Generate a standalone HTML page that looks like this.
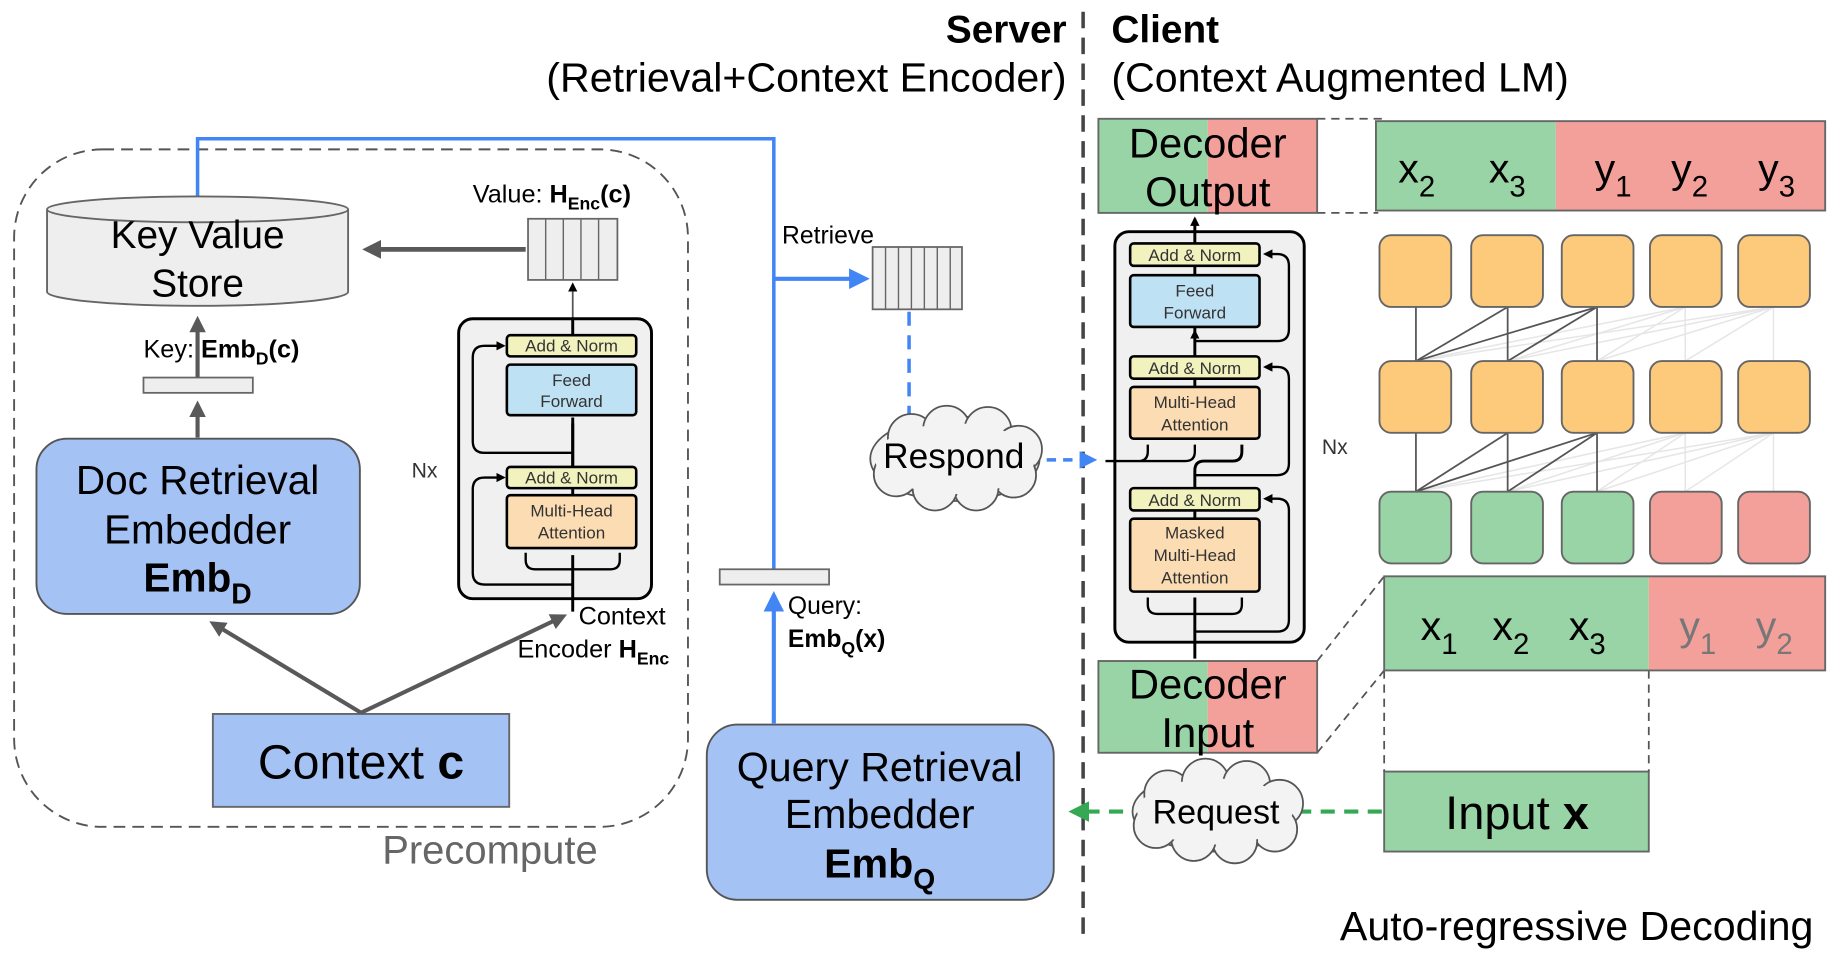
<!DOCTYPE html>
<html><head><meta charset="utf-8"><style>
html,body{margin:0;padding:0;background:#fff;}
svg{display:block;}
text{font-family:"Liberation Sans",Arial,sans-serif;}
</style></head><body>
<svg width="1844" height="958" viewBox="0 0 1568 814.5" preserveAspectRatio="none" xmlns="http://www.w3.org/2000/svg">
<defs>
<marker id="ag" markerWidth="4" markerHeight="4" refX="3" refY="2" orient="auto" markerUnits="strokeWidth"><path d="M0,0 L4,2 L0,4 z" fill="#595959"/></marker>
<marker id="ak" markerWidth="8" markerHeight="8" refX="6" refY="4" orient="auto" markerUnits="userSpaceOnUse"><path d="M0,0 L8,4 L0,8 z" fill="#000"/></marker>
<marker id="ab" markerWidth="5" markerHeight="5" refX="4" refY="2.5" orient="auto" markerUnits="strokeWidth"><path d="M0,0 L5,2.5 L0,5 z" fill="#4285f4"/></marker>
<marker id="agr" markerWidth="5" markerHeight="5" refX="4" refY="2.5" orient="auto" markerUnits="strokeWidth"><path d="M0,0 L5,2.5 L0,5 z" fill="#34a853"/></marker>
</defs>

<!-- titles -->
<text x="907" y="36" font-size="33" font-weight="bold" text-anchor="end">Server</text>
<text x="907" y="78" font-size="35" text-anchor="end">(Retrieval+Context Encoder)</text>
<text x="945" y="36" font-size="33" font-weight="bold">Client</text>
<text x="945" y="78" font-size="35">(Context Augmented LM)</text>
<line x1="921" y1="10" x2="921" y2="800" stroke="#444" stroke-width="3" stroke-dasharray="14,8"/>

<!-- precompute -->
<rect x="12" y="127" width="573" height="576" rx="75" fill="none" stroke="#555" stroke-width="1.6" stroke-dasharray="10,6"/>
<text x="325" y="734" font-size="34" fill="#666">Precompute</text>

<!-- blue path -->
<polyline points="168,168 168,118 658,118 658,484" fill="none" stroke="#4285f4" stroke-width="3"/>
<line x1="658" y1="237" x2="736" y2="237" stroke="#4285f4" stroke-width="3.5" marker-end="url(#ab)"/>
<line x1="658" y1="615" x2="658" y2="506" stroke="#4285f4" stroke-width="3.5" marker-end="url(#ab)"/>
<text x="665" y="207" font-size="21">Retrieve</text>

<!-- retrieve table -->
<rect x="742" y="210" width="76" height="53" fill="#eee" stroke="#666" stroke-width="1.5"/>
<g stroke="#666" stroke-width="1.2"><line x1="753" y1="210" x2="753" y2="263"/><line x1="764" y1="210" x2="764" y2="263"/><line x1="775" y1="210" x2="775" y2="263"/><line x1="786" y1="210" x2="786" y2="263"/><line x1="797" y1="210" x2="797" y2="263"/><line x1="808" y1="210" x2="808" y2="263"/></g>
<line x1="773" y1="265" x2="773" y2="358" stroke="#4285f4" stroke-width="3" stroke-dasharray="12,8"/>

<!-- Respond cloud -->
<g fill="#f3f3f3" stroke="#555" stroke-width="1.5">
<ellipse cx="812" cy="390" rx="72" ry="36"/>
<circle cx="775" cy="372" r="20"/><circle cx="805" cy="365" r="20"/><circle cx="840" cy="366" r="20"/><circle cx="866" cy="382" r="20"/>
<circle cx="862" cy="404" r="19"/><circle cx="830" cy="415" r="19"/><circle cx="795" cy="415" r="19"/><circle cx="762" cy="403" r="19"/>
</g>
<ellipse cx="812" cy="390" rx="68" ry="30" fill="#f3f3f3"/>
<text x="811" y="398" font-size="30" text-anchor="middle">Respond</text>
<line x1="890" y1="391" x2="930" y2="391" stroke="#4285f4" stroke-width="3" stroke-dasharray="8,6" marker-end="url(#ab)"/>

<!-- key value store -->
<path d="M40,178 L40,248 A128,12 0 0 0 296,248 L296,178" fill="#eee" stroke="#666" stroke-width="1.6"/>
<ellipse cx="168" cy="178" rx="128" ry="11" fill="#eee" stroke="#666" stroke-width="1.6"/>
<text x="168" y="211" font-size="33" text-anchor="middle">Key Value</text>
<text x="168" y="252" font-size="33" text-anchor="middle">Store</text>
<line x1="447" y1="212" x2="312" y2="212" stroke="#595959" stroke-width="4" marker-end="url(#ag)"/>

<!-- value table -->
<rect x="449" y="186" width="76" height="52" fill="#eee" stroke="#666" stroke-width="1.5"/>
<g stroke="#666" stroke-width="1.2"><line x1="464" y1="186" x2="464" y2="238"/><line x1="479" y1="186" x2="479" y2="238"/><line x1="494" y1="186" x2="494" y2="238"/><line x1="509" y1="186" x2="509" y2="238"/></g>
<text x="402" y="172" font-size="21.5">Value: <tspan font-weight="bold">H</tspan><tspan font-weight="bold" font-size="15" dy="6">Enc</tspan><tspan font-weight="bold" dy="-6">(c)</tspan></text>
<line x1="487" y1="272" x2="487" y2="242" stroke="#555" stroke-width="1.5" marker-end="url(#ak)"/>

<!-- encoder block -->
<rect x="390" y="271" width="164" height="238" rx="12" fill="#f0f0f0" stroke="#000" stroke-width="2.5"/>
<path d="M487,520 L487,472 M487,415 L487,360 M487,303 L487,272" stroke="#000" stroke-width="2.5" fill="none"/>
<path d="M487,355 L487,421" stroke="#000" stroke-width="2.5"/>
<path d="M487,497 L412,497 Q402,497 402,487 L402,416 Q402,406 412,406 L428,406" stroke="#000" stroke-width="2" fill="none" marker-end="url(#ak)"/>
<path d="M487,385 L412,385 Q402,385 402,375 L402,304 Q402,294 412,294 L428,294" stroke="#000" stroke-width="2" fill="none" marker-end="url(#ak)"/>
<path d="M487,484 L455,484 Q447,484 447,476 L447,470 M487,484 L519,484 Q527,484 527,476 L527,470" stroke="#000" stroke-width="2" fill="none"/>
<rect x="431" y="285" width="110" height="18" rx="3" fill="#f1f2be" stroke="#000" stroke-width="2.2"/>
<text x="486" y="299" font-size="14.5" text-anchor="middle" fill="#333">Add &amp; Norm</text>
<rect x="431" y="310" width="110" height="43" rx="3" fill="#bfe1f4" stroke="#000" stroke-width="2.2"/>
<text x="486" y="328" font-size="14.5" text-anchor="middle" fill="#333">Feed</text>
<text x="486" y="346" font-size="14.5" text-anchor="middle" fill="#333">Forward</text>
<rect x="431" y="397" width="110" height="18" rx="3" fill="#f1f2be" stroke="#000" stroke-width="2.2"/>
<text x="486" y="411" font-size="14.5" text-anchor="middle" fill="#333">Add &amp; Norm</text>
<rect x="431" y="421" width="110" height="45" rx="3" fill="#fcdcb2" stroke="#000" stroke-width="2.2"/>
<text x="486" y="439" font-size="14.5" text-anchor="middle" fill="#333">Multi-Head</text>
<text x="486" y="458" font-size="14.5" text-anchor="middle" fill="#333">Attention</text>
<text x="350" y="406" font-size="18" fill="#333">Nx</text>

<!-- key bar -->
<rect x="122" y="321" width="93" height="13" fill="#eee" stroke="#666" stroke-width="1.5"/>
<line x1="168" y1="321" x2="168" y2="272" stroke="#595959" stroke-width="3.5" marker-end="url(#ag)"/>
<line x1="168" y1="372" x2="168" y2="344" stroke="#595959" stroke-width="3.5" marker-end="url(#ag)"/>
<text x="122" y="304" font-size="21.5">Key: <tspan font-weight="bold">Emb</tspan><tspan font-weight="bold" font-size="15" dy="6">D</tspan><tspan font-weight="bold" dy="-6">(c)</tspan></text>

<!-- doc retrieval -->
<rect x="31" y="373" width="275" height="149" rx="26" fill="#a4c2f4" stroke="#555" stroke-width="1.6"/>
<text x="168" y="420" font-size="34.5" text-anchor="middle">Doc Retrieval</text>
<text x="168" y="462" font-size="34.5" text-anchor="middle">Embedder</text>
<text x="168" y="503" font-size="34.5" text-anchor="middle" font-weight="bold">Emb<tspan font-size="24" dy="10">D</tspan></text>

<!-- context -->
<rect x="181" y="607" width="252" height="79" fill="#a4c2f4" stroke="#666" stroke-width="1.6"/>
<text x="307" y="662" font-size="41" text-anchor="middle">Context <tspan font-weight="bold">c</tspan></text>
<line x1="307" y1="606" x2="181" y2="530" stroke="#595959" stroke-width="3.5" marker-end="url(#ag)"/>
<line x1="307" y1="606" x2="479" y2="524" stroke="#595959" stroke-width="3.5" marker-end="url(#ag)"/>
<text x="492" y="531" font-size="21.5">Context</text>
<text x="440" y="559" font-size="21.5">Encoder <tspan font-weight="bold">H</tspan><tspan font-weight="bold" font-size="15" dy="6">Enc</tspan></text>

<!-- query -->
<rect x="612" y="484" width="93" height="13" fill="#eee" stroke="#666" stroke-width="1.5"/>
<text x="670" y="522" font-size="21">Query:</text>
<text x="670" y="550" font-size="21" font-weight="bold">Emb<tspan font-size="15" dy="6">Q</tspan><tspan dy="-6">(x)</tspan></text>
<rect x="601" y="616" width="295" height="149" rx="26" fill="#a4c2f4" stroke="#555" stroke-width="1.6"/>
<text x="748" y="664" font-size="35" text-anchor="middle">Query Retrieval</text>
<text x="748" y="704" font-size="35" text-anchor="middle">Embedder</text>
<text x="748" y="746" font-size="35" text-anchor="middle" font-weight="bold">Emb<tspan font-size="24" dy="10">Q</tspan></text>

<!-- request -->
<line x1="1175" y1="690" x2="912" y2="690" stroke="#34a853" stroke-width="3.5" stroke-dasharray="12,8" marker-end="url(#agr)"/>
<g fill="#f3f3f3" stroke="#555" stroke-width="1.5">
<ellipse cx="1033" cy="690" rx="70" ry="34"/>
<circle cx="993" cy="675" r="20"/><circle cx="1025" cy="665" r="20"/><circle cx="1060" cy="667" r="20"/><circle cx="1088" cy="683" r="20"/>
<circle cx="1084" cy="705" r="19"/><circle cx="1050" cy="715" r="19"/><circle cx="1015" cy="713" r="19"/><circle cx="983" cy="702" r="19"/>
</g>
<ellipse cx="1033" cy="690" rx="66" ry="28" fill="#f3f3f3"/>
<text x="1034" y="700" font-size="29" text-anchor="middle">Request</text>

<!-- input x -->
<rect x="1177" y="656" width="225" height="68" fill="#98d4a6" stroke="#666" stroke-width="1.6"/>
<text x="1290" y="705" font-size="40" text-anchor="middle">Input <tspan font-weight="bold">x</tspan></text>
<g stroke="#555" stroke-width="1.5" stroke-dasharray="7,5" fill="none">
<line x1="1177" y1="570" x2="1177" y2="656"/><line x1="1402" y1="570" x2="1402" y2="656"/>
<line x1="1120" y1="562" x2="1177" y2="490"/><line x1="1120" y1="640" x2="1177" y2="570"/>
<line x1="1120" y1="101" x2="1175" y2="101"/><line x1="1120" y1="181" x2="1172" y2="181"/>
</g>

<!-- decoder input -->
<rect x="934" y="562" width="93" height="78" fill="#98d4a6"/>
<rect x="1027" y="562" width="93" height="78" fill="#f4a09a"/>
<rect x="934" y="562" width="186" height="78" fill="none" stroke="#666" stroke-width="1.6"/>
<text x="1027" y="594" font-size="35.5" text-anchor="middle">Decoder</text>
<text x="1027" y="635" font-size="35.5" text-anchor="middle">Input</text>

<!-- x1.. box -->
<rect x="1177" y="490" width="225" height="80" fill="#98d4a6"/>
<rect x="1402" y="490" width="150" height="80" fill="#f4a09a"/>
<rect x="1177" y="490" width="375" height="80" fill="none" stroke="#666" stroke-width="1.6"/>
<g font-size="35"><text x="1208" y="544">x<tspan font-size="25" dy="12">1</tspan></text>
<text x="1269" y="544">x<tspan font-size="25" dy="12">2</tspan></text>
<text x="1334" y="544">x<tspan font-size="25" dy="12">3</tspan></text>
<text x="1428" y="544" fill="#777">y<tspan font-size="25" dy="12">1</tspan></text>
<text x="1493" y="544" fill="#777">y<tspan font-size="25" dy="12">2</tspan></text></g>

<!-- decoder output -->
<rect x="934" y="101" width="93" height="80" fill="#98d4a6"/>
<rect x="1027" y="101" width="93" height="80" fill="#f4a09a"/>
<rect x="934" y="101" width="186" height="80" fill="none" stroke="#666" stroke-width="1.6"/>
<text x="1027" y="134" font-size="35.5" text-anchor="middle">Decoder</text>
<text x="1027" y="175" font-size="35.5" text-anchor="middle">Output</text>

<rect x="1170" y="103" width="153" height="76" fill="#98d4a6"/>
<rect x="1323" y="103" width="229" height="76" fill="#f4a09a"/>
<rect x="1170" y="103" width="382" height="76" fill="none" stroke="#666" stroke-width="1.6"/>
<g font-size="35"><text x="1189" y="155">x<tspan font-size="25" dy="12">2</tspan></text>
<text x="1266" y="155">x<tspan font-size="25" dy="12">3</tspan></text>
<text x="1356" y="155">y<tspan font-size="25" dy="12">1</tspan></text>
<text x="1421" y="155">y<tspan font-size="25" dy="12">2</tspan></text>
<text x="1495" y="155">y<tspan font-size="25" dy="12">3</tspan></text></g>

<!-- decoder block -->
<rect x="948" y="197" width="161" height="349" rx="12" fill="#f0f0f0" stroke="#000" stroke-width="2.5"/>
<path d="M1016,560 L1016,508 M1016,434 L1016,441 M1016,415 L1016,400 Q1016,392 1024,392 L1048,392 Q1056,392 1056,384 L1056,378 M1016,322 L1016,329 M1016,278 L1016,303 M1016,226 L1016,234 M1016,207 L1016,186" stroke="#000" stroke-width="2.5" fill="none"/>
<line x1="1016" y1="200" x2="1016" y2="186" stroke="#000" stroke-width="2" marker-end="url(#ak)"/>
<line x1="1016" y1="300" x2="1016" y2="282" stroke="#000" stroke-width="2" marker-end="url(#ak)"/>
<path d="M1016,537 L1086,537 Q1096,537 1096,527 L1096,434 Q1096,424 1086,424 L1076,424" stroke="#000" stroke-width="2" fill="none" marker-end="url(#ak)"/>
<path d="M1016,404 L1086,404 Q1096,404 1096,394 L1096,322 Q1096,312 1086,312 L1076,312" stroke="#000" stroke-width="2" fill="none" marker-end="url(#ak)"/>
<path d="M1016,290 L1086,290 Q1096,290 1096,280 L1096,226 Q1096,216 1086,216 L1076,216" stroke="#000" stroke-width="2" fill="none" marker-end="url(#ak)"/>
<path d="M1016,522 L984,522 Q976,522 976,514 L976,508 M1016,522 L1048,522 Q1056,522 1056,514 L1056,508" stroke="#000" stroke-width="2" fill="none"/>
<path d="M940,392 L1008,392 Q1016,392 1016,384 L1016,378 M968,392 Q976,392 976,384 L976,378" stroke="#000" stroke-width="2" fill="none"/>
<rect x="961" y="207" width="110" height="19" rx="3" fill="#f1f2be" stroke="#000" stroke-width="2.2"/>
<text x="1016" y="222" font-size="14.5" text-anchor="middle" fill="#333">Add &amp; Norm</text>
<rect x="961" y="234" width="110" height="44" rx="3" fill="#bfe1f4" stroke="#000" stroke-width="2.2"/>
<text x="1016" y="252" font-size="14.5" text-anchor="middle" fill="#333">Feed</text>
<text x="1016" y="271" font-size="14.5" text-anchor="middle" fill="#333">Forward</text>
<rect x="961" y="303" width="110" height="19" rx="3" fill="#f1f2be" stroke="#000" stroke-width="2.2"/>
<text x="1016" y="318" font-size="14.5" text-anchor="middle" fill="#333">Add &amp; Norm</text>
<rect x="961" y="329" width="110" height="44" rx="3" fill="#fcdcb2" stroke="#000" stroke-width="2.2"/>
<text x="1016" y="347" font-size="14.5" text-anchor="middle" fill="#333">Multi-Head</text>
<text x="1016" y="366" font-size="14.5" text-anchor="middle" fill="#333">Attention</text>
<rect x="961" y="415" width="110" height="19" rx="3" fill="#f1f2be" stroke="#000" stroke-width="2.2"/>
<text x="1016" y="430" font-size="14.5" text-anchor="middle" fill="#333">Add &amp; Norm</text>
<rect x="961" y="441" width="110" height="62" rx="3" fill="#fcdcb2" stroke="#000" stroke-width="2.2"/>
<text x="1016" y="458" font-size="14.5" text-anchor="middle" fill="#333">Masked</text>
<text x="1016" y="477" font-size="14.5" text-anchor="middle" fill="#333">Multi-Head</text>
<text x="1016" y="496" font-size="14.5" text-anchor="middle" fill="#333">Attention</text>
<text x="1124" y="386" font-size="18" fill="#333">Nx</text>

<!-- grid lines -->
<g stroke="#e6e6e6" stroke-width="1.3">
<line x1="1204" y1="307" x2="1433" y2="261"/><line x1="1204" y1="307" x2="1508" y2="261"/>
<line x1="1282" y1="307" x2="1433" y2="261"/><line x1="1282" y1="307" x2="1508" y2="261"/>
<line x1="1358" y1="307" x2="1433" y2="261"/><line x1="1358" y1="307" x2="1508" y2="261"/>
<line x1="1433" y1="307" x2="1433" y2="261"/><line x1="1433" y1="307" x2="1508" y2="261"/><line x1="1508" y1="307" x2="1508" y2="261"/>
<line x1="1204" y1="418" x2="1433" y2="368"/><line x1="1204" y1="418" x2="1508" y2="368"/>
<line x1="1282" y1="418" x2="1433" y2="368"/><line x1="1282" y1="418" x2="1508" y2="368"/>
<line x1="1358" y1="418" x2="1433" y2="368"/><line x1="1358" y1="418" x2="1508" y2="368"/>
<line x1="1433" y1="418" x2="1433" y2="368"/><line x1="1433" y1="418" x2="1508" y2="368"/><line x1="1508" y1="418" x2="1508" y2="368"/>
</g>
<g stroke="#555" stroke-width="1.5">
<line x1="1204" y1="307" x2="1204" y2="261"/><line x1="1204" y1="307" x2="1282" y2="261"/><line x1="1204" y1="307" x2="1358" y2="261"/>
<line x1="1282" y1="307" x2="1282" y2="261"/><line x1="1282" y1="307" x2="1358" y2="261"/><line x1="1358" y1="307" x2="1358" y2="261"/>
<line x1="1204" y1="418" x2="1204" y2="368"/><line x1="1204" y1="418" x2="1282" y2="368"/><line x1="1204" y1="418" x2="1358" y2="368"/>
<line x1="1282" y1="418" x2="1282" y2="368"/><line x1="1282" y1="418" x2="1358" y2="368"/><line x1="1358" y1="418" x2="1358" y2="368"/>
</g>
<g stroke="#666" stroke-width="1.6">
<g fill="#fdc97a">
<rect x="1173" y="200" width="61" height="61" rx="10"/><rect x="1251" y="200" width="61" height="61" rx="10"/><rect x="1328" y="200" width="61" height="61" rx="10"/><rect x="1403" y="200" width="61" height="61" rx="10"/><rect x="1478" y="200" width="61" height="61" rx="10"/>
<rect x="1173" y="307" width="61" height="61" rx="10"/><rect x="1251" y="307" width="61" height="61" rx="10"/><rect x="1328" y="307" width="61" height="61" rx="10"/><rect x="1403" y="307" width="61" height="61" rx="10"/><rect x="1478" y="307" width="61" height="61" rx="10"/>
</g>
<g fill="#98d4a6"><rect x="1173" y="418" width="61" height="61" rx="10"/><rect x="1251" y="418" width="61" height="61" rx="10"/><rect x="1328" y="418" width="61" height="61" rx="10"/></g>
<g fill="#f4a09a"><rect x="1403" y="418" width="61" height="61" rx="10"/><rect x="1478" y="418" width="61" height="61" rx="10"/></g>
</g>

<text x="1542" y="799" font-size="35" text-anchor="end">Auto-regressive Decoding</text>
</svg>
</body></html>
